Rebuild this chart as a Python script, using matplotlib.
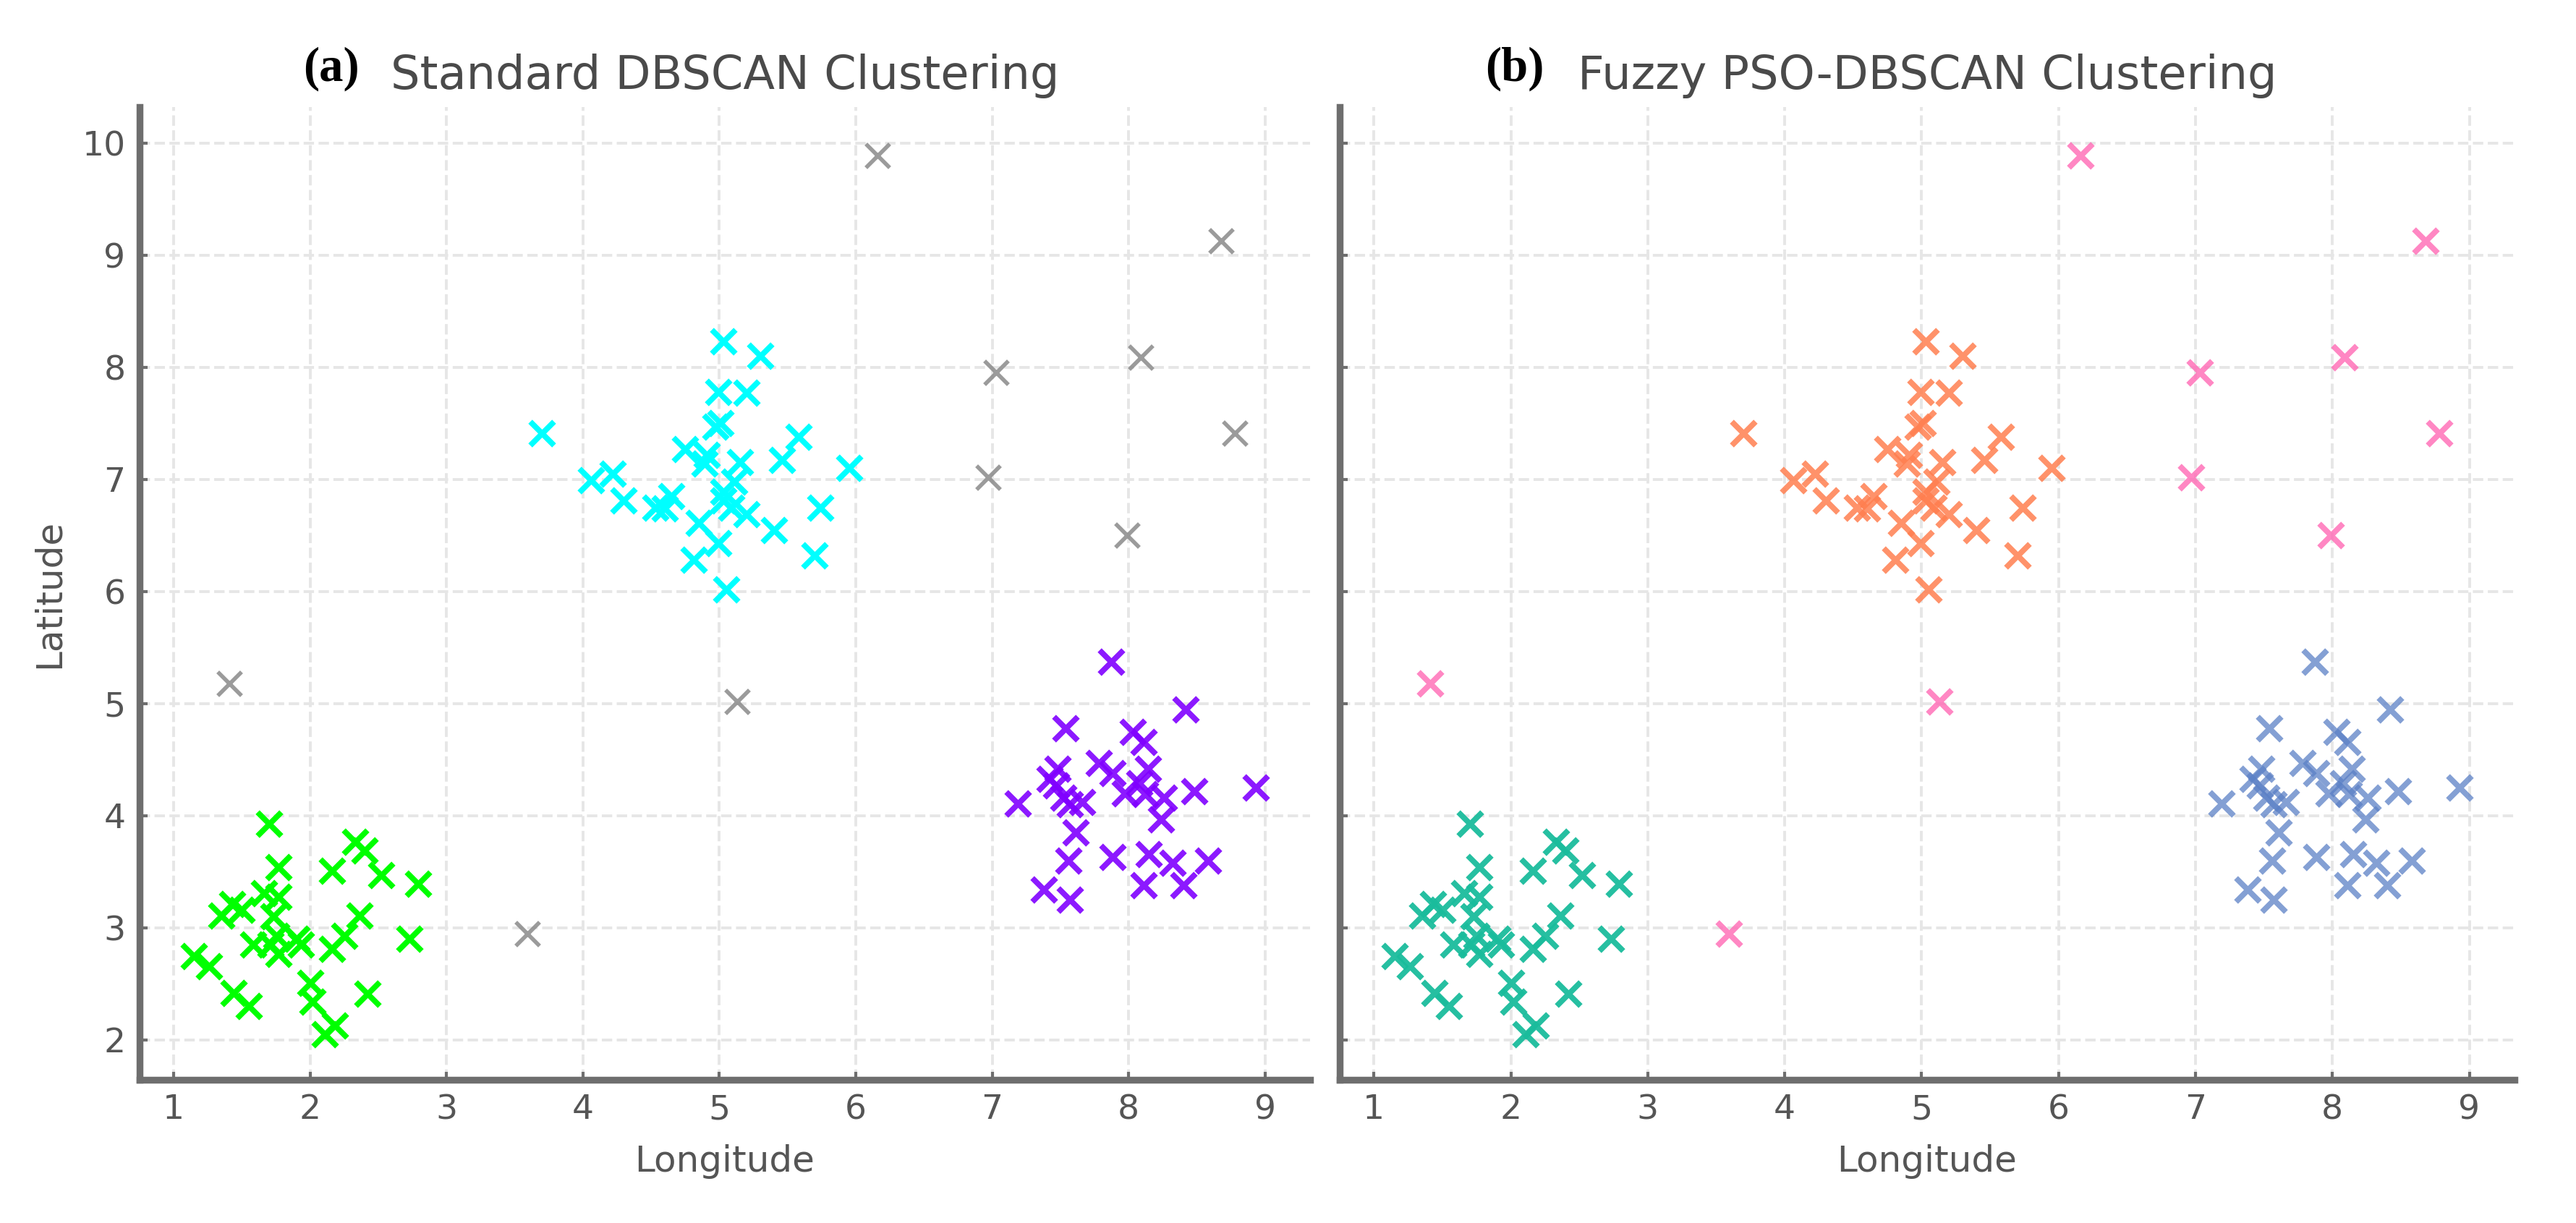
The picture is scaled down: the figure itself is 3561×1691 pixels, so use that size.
import matplotlib
matplotlib.use("Agg")
import matplotlib.pyplot as plt

# ---------------- data ----------------
c1_lon = [1.70, 2.33, 2.40, 1.77, 2.16, 2.52, 2.79, 1.66, 1.77, 1.43, 1.50, 1.35, 1.73, 2.36,
          1.75, 2.25, 1.58, 1.71, 1.90, 1.93, 1.77, 2.16, 2.73, 1.15, 1.26, 2.00, 1.44, 1.55,
          2.02, 2.42, 2.18, 2.11]
c1_lat = [3.93, 3.77, 3.69, 3.54, 3.51, 3.47, 3.39, 3.31, 3.28, 3.21, 3.16, 3.11, 3.10, 3.11,
          2.93, 2.93, 2.85, 2.85, 2.90, 2.85, 2.77, 2.81, 2.90, 2.75, 2.66, 2.51, 2.42, 2.30,
          2.34, 2.41, 2.13, 2.05]

c2_lon = [5.03, 5.30, 4.99, 5.20, 5.01, 4.97, 3.70, 5.58, 4.75, 4.91, 4.89, 5.15, 5.46, 5.95,
          4.22, 4.06, 5.11, 5.03, 4.65, 4.30, 4.53, 4.60, 5.03, 5.09, 5.20, 5.74, 4.85, 5.40,
          4.99, 4.81, 5.70, 5.05]
c2_lat = [8.23, 8.10, 7.78, 7.77, 7.50, 7.47, 7.41, 7.38, 7.27, 7.22, 7.14, 7.15, 7.17, 7.10,
          7.05, 6.99, 6.98, 6.89, 6.85, 6.81, 6.75, 6.74, 6.81, 6.75, 6.69, 6.75, 6.61, 6.55,
          6.43, 6.28, 6.32, 6.02]

c3_lon = [7.87, 8.42, 7.54, 8.03, 8.11, 7.48, 7.78, 7.88, 8.14, 7.42, 7.47, 7.19, 7.57, 7.66,
          7.97, 8.12, 8.26, 8.08, 8.48, 8.93, 8.24, 7.61, 7.56, 7.88, 8.15, 8.32, 8.58, 7.38,
          7.57, 8.11, 8.40, 7.52]
c3_lat = [5.37, 4.95, 4.78, 4.75, 4.66, 4.42, 4.47, 4.38, 4.42, 4.33, 4.27, 4.11, 4.10, 4.12,
          4.20, 4.19, 4.16, 4.29, 4.22, 4.25, 3.97, 3.85, 3.60, 3.63, 3.66, 3.58, 3.60, 3.34,
          3.25, 3.38, 3.38, 4.16]

noise_lon = [6.16, 8.68, 7.03, 8.09, 8.78, 6.97, 7.99, 1.41, 5.13, 3.59]
noise_lat = [9.89, 9.13, 7.95, 8.09, 7.41, 7.02, 6.50, 5.18, 5.02, 2.95]

titles = ["Standard DBSCAN Clustering", "Fuzzy PSO-DBSCAN Clustering"]
panel_tags = ["(a)", "(b)"]
x_label = "Longitude"
y_label = "Latitude"
x_ticks = [1, 2, 3, 4, 5, 6, 7, 8, 9]
y_ticks = [2, 3, 4, 5, 6, 7, 8, 9, 10]

colors_a = ["#00ff00", "#00ffff", "#8000ff", "#8a8a8a"]
colors_b = ["#1abc9c", "#ff7f50", "#5b80c6", "#ff69b4"]
alphas_a = [1.0, 1.0, 0.9, 0.85]
alphas_b = [0.95, 0.85, 0.75, 0.8]

# ---------------- figure ----------------
W, H, DPI = 3562, 1691, 200
fig = plt.figure(figsize=(W / DPI, H / DPI), dpi=DPI)
plt.rcParams['font.family'] = ['DejaVu Sans']

ax_a = fig.add_axes([193 / W, 1 - 1493 / H, (1811 - 193) / W, (1493 - 148) / H])
ax_b = fig.add_axes([1852 / W, 1 - 1493 / H, (3476 - 1852) / W, (1493 - 148) / H], sharey=ax_a)

groups = [(c1_lon, c1_lat), (c2_lon, c2_lat), (c3_lon, c3_lat), (noise_lon, noise_lat)]

spine_col = "#6e6e6e"
text_col = "#555555"

for k, (ax, cols, alps) in enumerate([(ax_a, colors_a, alphas_a), (ax_b, colors_b, alphas_b)]):
    for gi, (xs, ys) in enumerate(groups):
        lw = 2.0 if (k == 0 and gi == 3) else 2.8
        ax.scatter(xs, ys, marker="x", s=140, linewidths=lw, color=cols[gi],
                   alpha=alps[gi], zorder=3)
    ax.grid(True, linestyle="--", color="#e6e6e6", linewidth=1.4, zorder=0)
    ax.set_axisbelow(True)
    ax.set_xticks(x_ticks)
    ax.set_yticks(y_ticks)
    ax.set_xlim(0.75, 9.33)
    ax.set_ylim(1.645, 10.32)
    ax.spines["top"].set_visible(False)
    ax.spines["right"].set_visible(False)
    for s in ["left", "bottom"]:
        ax.spines[s].set_color(spine_col)
        ax.spines[s].set_linewidth(3.4)
    ax.tick_params(direction="in", length=4, width=1.5, color=spine_col,
                   labelsize=17, labelcolor=text_col, pad=7)
    ax.set_xlabel(x_label, fontsize=18, color=text_col, labelpad=9)
    ax.set_title(titles[k], fontsize=23, color="#4a4a4a", pad=9)

ax_a.set_ylabel(y_label, fontsize=18, color=text_col, labelpad=8)
plt.setp(ax_b.get_yticklabels(), visible=False)

# panel tags
fig.text(419 / W, 1 - 112 / H, panel_tags[0], fontsize=24, fontweight="bold",
         family=["Liberation Serif", "DejaVu Serif"], color="black", ha="left", va="baseline")
fig.text(2053 / W, 1 - 112 / H, panel_tags[1], fontsize=24, fontweight="bold",
         family=["Liberation Serif", "DejaVu Serif"], color="black", ha="left", va="baseline")

fig.savefig("out.png", dpi=DPI, facecolor="white")
